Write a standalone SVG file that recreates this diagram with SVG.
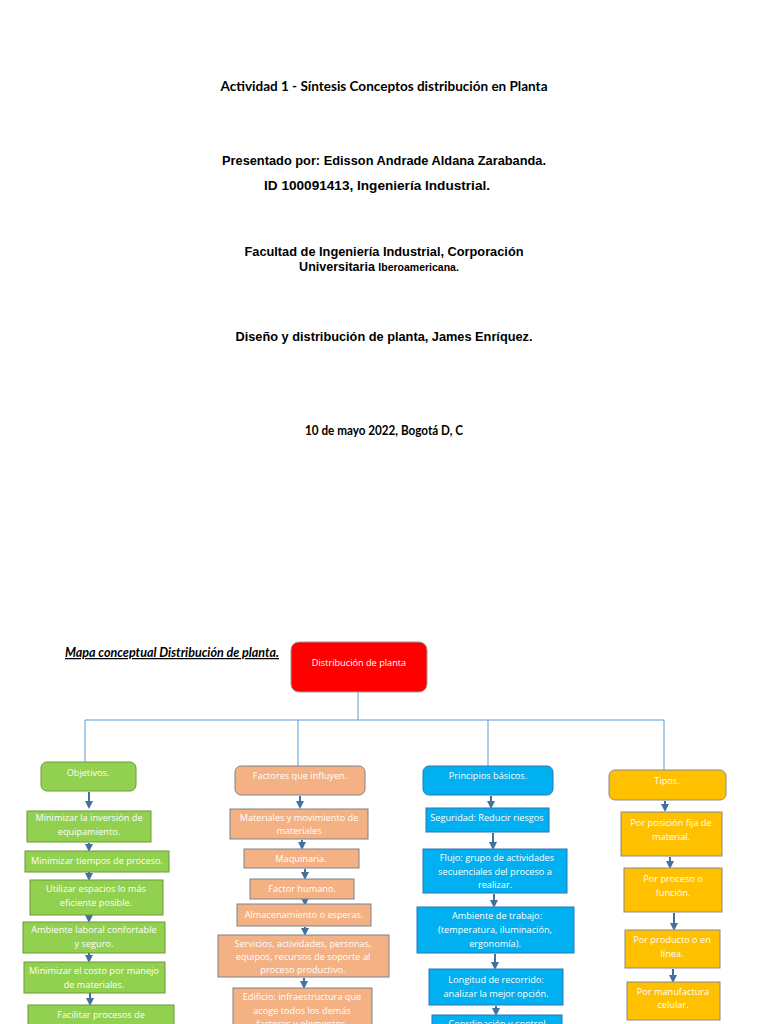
<svg xmlns="http://www.w3.org/2000/svg" width="768" height="1024" viewBox="0 0 768 1024">
<defs>
<style>
.t1{font-family:Lato,"Open Sans",sans-serif;font-weight:bold;font-size:12.5px;fill:#000}
.ar{font-family:"Liberation Sans",Arial,sans-serif;font-weight:bold;font-size:12.5px;fill:#000}
.bx{font-family:"Open Sans","Noto Sans",sans-serif;font-size:9.2px;fill:#fff;text-anchor:middle}
.g{fill:#92D050;stroke:#6A9A3A;stroke-width:1}
.p{fill:#F4B183;stroke:#7A8290;stroke-width:1}
.b{fill:#00B0F0;stroke:#2E75B6;stroke-width:1}
.y{fill:#FFC000;stroke:#8A8A8A;stroke-width:1}
.ln{stroke:#5B9BD5;stroke-width:1;fill:none}
.arw{stroke:#41719C;stroke-width:2;fill:none}
</style>
<marker id="ah" markerWidth="4" markerHeight="4" refX="2" refY="2" orient="auto" markerUnits="strokeWidth">
<path d="M0,0 L4,2 L0,4 Z" fill="#41719C"/>
</marker>
</defs>
<rect width="768" height="1024" fill="#fff"/>

<g id="header">
<text class="t1" x="384" y="91" text-anchor="middle" textLength="327" lengthAdjust="spacingAndGlyphs">Actividad 1 - Síntesis Conceptos distribución en Planta</text>
<text class="ar" x="384" y="165" text-anchor="middle" textLength="324" lengthAdjust="spacingAndGlyphs">Presentado por: Edisson Andrade Aldana Zarabanda.</text>
<text class="ar" x="377" y="190" text-anchor="middle" textLength="226" lengthAdjust="spacingAndGlyphs">ID 100091413, Ingeniería Industrial.</text>
<text class="ar" x="384" y="256" text-anchor="middle" textLength="279" lengthAdjust="spacingAndGlyphs">Facultad de Ingeniería Industrial, Corporación</text>
<text class="ar" x="379" y="271" text-anchor="middle"><tspan>Universitaria </tspan><tspan font-size="10.5">Iberoamericana.</tspan></text>
<text class="ar" x="384" y="341" text-anchor="middle" textLength="297" lengthAdjust="spacingAndGlyphs">Diseño y distribución de planta, James Enríquez.</text>
<text class="t1" x="384" y="435" text-anchor="middle" font-size="11.5" textLength="158" lengthAdjust="spacingAndGlyphs">10 de mayo 2022, Bogotá D, C</text>
<text class="t1" x="65" y="657" font-style="italic" text-decoration="underline" font-size="12" textLength="214" lengthAdjust="spacingAndGlyphs">Mapa conceptual Distribución de planta.</text>
</g>

<g id="connectors">
<path class="ln" d="M358,692 V720 M85,720 H664 M85,720 V762 M298,720 V766 M488,720 V766 M664,720 V770"/>
<line class="arw" x1="89" y1="792" x2="89" y2="805" marker-end="url(#ah)"/>
<line class="arw" x1="89" y1="843" x2="89" y2="848" marker-end="url(#ah)"/>
<line class="arw" x1="89" y1="872" x2="89" y2="877" marker-end="url(#ah)"/>
<line class="arw" x1="89" y1="915" x2="89" y2="919" marker-end="url(#ah)"/>
<line class="arw" x1="89" y1="953" x2="89" y2="959" marker-end="url(#ah)"/>
<line class="arw" x1="90" y1="993" x2="90" y2="1002" marker-end="url(#ah)"/>

<line class="arw" x1="300" y1="796" x2="300" y2="805" marker-end="url(#ah)"/>
<line class="arw" x1="302" y1="840" x2="302" y2="846" marker-end="url(#ah)"/>
<line class="arw" x1="305" y1="869" x2="305" y2="876" marker-end="url(#ah)"/>
<line class="arw" x1="305" y1="899" x2="305" y2="902" marker-end="url(#ah)"/>
<line class="arw" x1="305" y1="927" x2="305" y2="932" marker-end="url(#ah)"/>
<line class="arw" x1="304" y1="978" x2="304" y2="985" marker-end="url(#ah)"/>

<line class="arw" x1="491" y1="796" x2="491" y2="805" marker-end="url(#ah)"/>
<line class="arw" x1="493" y1="833" x2="493" y2="846" marker-end="url(#ah)"/>
<line class="arw" x1="494" y1="894" x2="494" y2="904" marker-end="url(#ah)"/>
<line class="arw" x1="495" y1="954" x2="495" y2="966" marker-end="url(#ah)"/>
<line class="arw" x1="496" y1="1006" x2="496" y2="1012" marker-end="url(#ah)"/>

<line class="arw" x1="665" y1="801" x2="665" y2="808" marker-end="url(#ah)"/>
<line class="arw" x1="670" y1="857" x2="670" y2="865" marker-end="url(#ah)"/>
<line class="arw" x1="674" y1="913" x2="674" y2="927" marker-end="url(#ah)"/>
<line class="arw" x1="673" y1="969" x2="673" y2="979" marker-end="url(#ah)"/>
</g>

<g id="root">
<rect x="291" y="642" width="136" height="50" rx="8" fill="#FF0000" stroke="#9A9A9A"/>
<text class="bx" x="359" y="666">Distribución de planta</text>
</g>

<g id="objetivos"><rect class="g" x="41" y="762" width="95" height="29" rx="6"/><text class="bx" x="88" y="776">Objetivos.</text></g>
<g id="obj1"><rect class="g" x="27" y="811" width="124" height="31"/><text class="bx" x="89" y="821">Minimizar la inversión de</text><text class="bx" x="89" y="835">equipamiento.</text></g>
<g id="obj2"><rect class="g" x="25" y="851" width="144" height="21"/><text class="bx" x="97" y="864">Minimizar tiempos de proceso.</text></g>
<g id="obj3"><rect class="g" x="30" y="880" width="133" height="35"/><text class="bx" x="96" y="892">Utilizar espacios lo más</text><text class="bx" x="96" y="906">eficiente posible.</text></g>
<g id="obj4"><rect class="g" x="23" y="922" width="142" height="31"/><text class="bx" x="94" y="933">Ambiente laboral confortable</text><text class="bx" x="94" y="947">y seguro.</text></g>
<g id="obj5"><rect class="g" x="24" y="962" width="141" height="31"/><text class="bx" x="94" y="974">Minimizar el costo por manejo</text><text class="bx" x="94" y="988">de materiales.</text></g>
<g id="obj6"><rect class="g" x="28" y="1005" width="146" height="30"/><text class="bx" x="101" y="1018">Facilitar procesos de</text></g>

<g id="factores"><rect class="p" x="235" y="766" width="130" height="29" rx="6"/><text class="bx" x="300" y="779">Factores que influyen.</text></g>
<g id="fac1"><rect class="p" x="230" y="809" width="138" height="30"/><text class="bx" x="299" y="821">Materiales y movimiento de</text><text class="bx" x="299" y="834">materiales</text></g>
<g id="fac2"><rect class="p" x="244" y="849" width="115" height="19"/><text class="bx" x="301" y="862">Maquinaria.</text></g>
<g id="fac3"><rect class="p" x="250" y="879" width="104" height="20"/><text class="bx" x="302" y="892">Factor humano.</text></g>
<g id="fac4"><rect class="p" x="237" y="904" width="134" height="22"/><text class="bx" x="304" y="918">Almacenamiento o esperas.</text></g>
<g id="fac5"><rect class="p" x="218" y="935" width="171" height="42"/><text class="bx" x="303" y="947">Servicios, actividades, personas,</text><text class="bx" x="303" y="960">equipos, recursos de soporte al</text><text class="bx" x="303" y="973">proceso productivo.</text></g>
<g id="fac6"><rect class="p" x="233" y="988" width="139" height="45"/><text class="bx" x="302" y="1000">Edificio: infraestructura que</text><text class="bx" x="302" y="1014">acoge todos los demás</text><text class="bx" x="302" y="1027">factores y elementos.</text></g>

<g id="principios"><rect class="b" x="423" y="766" width="130" height="29" rx="6"/><text class="bx" x="488" y="779">Principios básicos.</text></g>
<g id="pri1"><rect class="b" x="426" y="808" width="123" height="24"/><text class="bx" x="487" y="821">Seguridad: Reducir riesgos</text></g>
<g id="pri2"><rect class="b" x="423" y="849" width="144" height="44"/><text class="bx" x="497" y="861">Flujo: grupo de actividades</text><text class="bx" x="495" y="875">secuenciales del proceso a</text><text class="bx" x="495" y="888">realizar.</text></g>
<g id="pri3"><rect class="b" x="417" y="907" width="157" height="46"/><text class="bx" x="497" y="919">Ambiente de trabajo:</text><text class="bx" x="495" y="933">(temperatura, iluminación,</text><text class="bx" x="495" y="947">ergonomía).</text></g>
<g id="pri4"><rect class="b" x="429" y="969" width="134" height="36"/><text class="bx" x="496" y="983">Longitud de recorrido:</text><text class="bx" x="496" y="997">analizar la mejor opción.</text></g>
<g id="pri5"><rect class="b" x="432" y="1015" width="130" height="20"/><text class="bx" x="497" y="1027">Coordinación y control</text></g>

<g id="tipos"><rect class="y" x="609" y="770" width="117" height="30" rx="6"/><text class="bx" x="667" y="784">Tipos.</text></g>
<g id="tip1"><rect class="y" x="621" y="812" width="101" height="44"/><text class="bx" x="671" y="826">Por posición fija de</text><text class="bx" x="671" y="840">material.</text></g>
<g id="tip2"><rect class="y" x="624" y="868" width="98" height="44"/><text class="bx" x="673" y="882">Por proceso o</text><text class="bx" x="673" y="896">función.</text></g>
<g id="tip3"><rect class="y" x="625" y="930" width="95" height="38"/><text class="bx" x="672" y="943">Por producto o en</text><text class="bx" x="672" y="957">línea.</text></g>
<g id="tip4"><rect class="y" x="627" y="982" width="93" height="38"/><text class="bx" x="673" y="995">Por manufactura</text><text class="bx" x="673" y="1008">celular.</text></g>
</svg>
